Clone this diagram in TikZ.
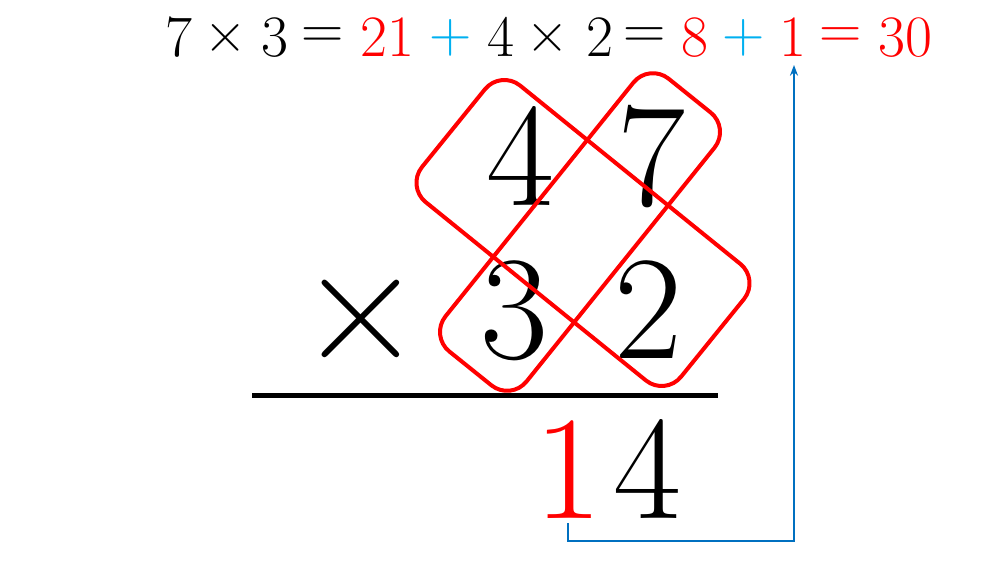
\documentclass[tikz,border=0pt]{standalone}
\usepackage{fontspec}
\usetikzlibrary{arrows.meta}
\definecolor{myred}{RGB}{255,0,0}
\definecolor{mycyan}{RGB}{0,176,240}
\definecolor{myblue}{RGB}{0,112,192}
\begin{document}
\begin{tikzpicture}[x=0.75pt,y=0.75pt,
  tok/.style={inner sep=0pt, anchor=base, font=\fontsize{44}{44}\selectfont},
  tokc/.style={inner sep=0pt, anchor=center, font=\fontsize{44}{44}\selectfont},
  big/.style={inner sep=0pt, anchor=base, font=\fontsize{111}{111}\selectfont},
  bigc/.style={inner sep=0pt, anchor=center, font=\fontsize{128}{128}\selectfont},
  redbox/.style={draw=myred, line width=3pt, rounded corners=18.75pt, inner sep=0pt},
  conn/.style={draw=myblue, line width=2.2pt, -{Stealth[length=8pt,width=6pt]}}]
\useasboundingbox (0,0) rectangle (1000,562);
% top equation
\node[tok] (t7) at (179,505) {7};
\node[tokc] (tx1) at (226,524) {×};
\node[tok] (t3) at (275,505) {3};
\node[tokc] (te1) at (323,524) {=};
\node[tok, text=myred] (t21) at (387,505) {21};
\node[tokc, text=mycyan] (tp1) at (451,524) {+};
\node[tok] (t4) at (501,505) {4};
\node[tokc] (tx2) at (548,524) {×};
\node[tok] (t2) at (600,505) {2};
\node[tokc] (te2) at (645,524) {=};
\node[tok, text=myred] (t8) at (695,505) {8};
\node[tokc, text=mycyan] (tp2) at (744,524) {+};
\node[tok, text=myred] (t1) at (793,505) {1};
\node[tokc, text=myred] (te3) at (841,524) {=};
\node[tok, text=myred] (t30) at (905,505) {30};
% big digits
\node[big] (d4) at (520,357) {4};
\node[big] (d7) at (651,357) {7};
\node[big] (d3) at (514,204) {3};
\node[big] (d2) at (648,204) {2};
\node[bigc] (dx) at (361,242) {×};
% boxes
\node[redbox, minimum width=262.5pt, minimum height=78pt, rotate=51.2] (boxA) at (580,330) {};
\node[redbox, minimum width=250pt, minimum height=112.5pt, rotate=-39] (boxB) at (583,329) {};
% rule
\coordinate (r1) at (252,167);
\coordinate (r2) at (718,167);
\draw[line width=3.75pt] (r1) -- (r2);
% result
\node[big, text=myred] (r1d) at (568,44) {1};
\node[big] (r4d) at (647,44) {4};
% connector
\coordinate (b1) at (568,39);
\coordinate (b2) at (568,21);
\coordinate (tip) at (794,497);
\draw[conn] (b1) -- (b2) -| (tip);
\end{tikzpicture}
\end{document}
